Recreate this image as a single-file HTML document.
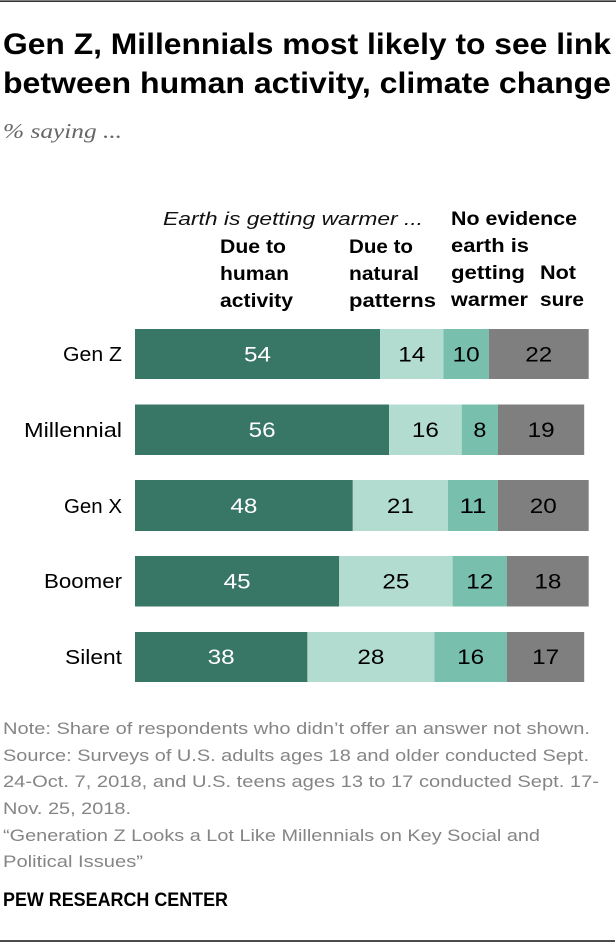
<!DOCTYPE html>
<html>
<head>
<meta charset="utf-8">
<style>
  html,body{margin:0;padding:0;background:#fff;}
  svg{display:block;}
  text{font-family:"Liberation Sans",sans-serif;}
</style>
</head>
<body>
<svg width="616" height="943" viewBox="0 0 616 943" xmlns="http://www.w3.org/2000/svg">
  <rect x="0" y="0" width="616" height="943" fill="#fff"/>
  <rect x="0" y="0.5" width="616" height="1.3" fill="#000"/>

  <!-- Title -->
  <text x="3" y="54" font-size="30" font-weight="bold" fill="#000" textLength="608" lengthAdjust="spacingAndGlyphs">Gen Z, Millennials most likely to see link</text>
  <text x="3" y="93" font-size="30" font-weight="bold" fill="#000" textLength="608" lengthAdjust="spacingAndGlyphs">between human activity, climate change</text>
  <text x="3" y="138" font-size="21" font-style="italic" fill="#666" style="font-family:'Liberation Serif',serif" textLength="119" lengthAdjust="spacingAndGlyphs">% saying ...</text>

  <!-- Column headers -->
  <text x="163" y="225" font-size="18" font-style="italic" fill="#111" textLength="260" lengthAdjust="spacingAndGlyphs">Earth is getting warmer ...</text>

  <g font-size="19" font-weight="bold" fill="#000">
    <text x="220" y="253" textLength="66" lengthAdjust="spacingAndGlyphs">Due to</text>
    <text x="220" y="280" textLength="69" lengthAdjust="spacingAndGlyphs">human</text>
    <text x="220" y="307" textLength="73" lengthAdjust="spacingAndGlyphs">activity</text>

    <text x="349" y="253" textLength="64" lengthAdjust="spacingAndGlyphs">Due to</text>
    <text x="349" y="280" textLength="70" lengthAdjust="spacingAndGlyphs">natural</text>
    <text x="349" y="307" textLength="87" lengthAdjust="spacingAndGlyphs">patterns</text>

    <text x="451" y="225" textLength="126" lengthAdjust="spacingAndGlyphs">No evidence</text>
    <text x="451" y="252" textLength="78" lengthAdjust="spacingAndGlyphs">earth is</text>
    <text x="451" y="279" textLength="74" lengthAdjust="spacingAndGlyphs">getting</text>
    <text x="451" y="306" textLength="77" lengthAdjust="spacingAndGlyphs">warmer</text>

    <text x="540" y="279" textLength="36" lengthAdjust="spacingAndGlyphs">Not</text>
    <text x="540" y="306" textLength="44" lengthAdjust="spacingAndGlyphs">sure</text>
  </g>

  <!-- Row labels -->
  <g font-size="20" fill="#000" text-anchor="end">
    <text x="122" y="361" textLength="59" lengthAdjust="spacingAndGlyphs">Gen Z</text>
    <text x="122" y="437" textLength="98" lengthAdjust="spacingAndGlyphs">Millennial</text>
    <text x="122" y="513" textLength="58" lengthAdjust="spacingAndGlyphs">Gen X</text>
    <text x="122" y="588" textLength="78" lengthAdjust="spacingAndGlyphs">Boomer</text>
    <text x="122" y="664" textLength="57" lengthAdjust="spacingAndGlyphs">Silent</text>
  </g>

  <!-- Bars -->
  <!-- Gen Z -->
  <rect x="135" y="329" width="245" height="50" fill="#387665"/>
  <rect x="380" y="329" width="63.5" height="50" fill="#b3dcd1"/>
  <rect x="443.5" y="329" width="45.4" height="50" fill="#78bfad"/>
  <rect x="488.9" y="329" width="99.8" height="50" fill="#7f7f7f"/>
  <!-- Millennial -->
  <rect x="135" y="404.5" width="254.1" height="50.5" fill="#387665"/>
  <rect x="389.1" y="404.5" width="72.6" height="50.5" fill="#b3dcd1"/>
  <rect x="461.7" y="404.5" width="36.3" height="50.5" fill="#78bfad"/>
  <rect x="498" y="404.5" width="86.2" height="50.5" fill="#7f7f7f"/>
  <!-- Gen X -->
  <rect x="135" y="480" width="217.8" height="51" fill="#387665"/>
  <rect x="352.8" y="480" width="95.2" height="51" fill="#b3dcd1"/>
  <rect x="448" y="480" width="49.9" height="51" fill="#78bfad"/>
  <rect x="497.9" y="480" width="90.8" height="51" fill="#7f7f7f"/>
  <!-- Boomer -->
  <rect x="135" y="556" width="204.2" height="50.5" fill="#387665"/>
  <rect x="339.2" y="556" width="113.4" height="50.5" fill="#b3dcd1"/>
  <rect x="452.6" y="556" width="54.4" height="50.5" fill="#78bfad"/>
  <rect x="507" y="556" width="81.7" height="50.5" fill="#7f7f7f"/>
  <!-- Silent -->
  <rect x="135" y="632" width="172.4" height="50" fill="#387665"/>
  <rect x="307.4" y="632" width="127" height="50" fill="#b3dcd1"/>
  <rect x="434.4" y="632" width="72.6" height="50" fill="#78bfad"/>
  <rect x="507" y="632" width="77.2" height="50" fill="#7f7f7f"/>

  <!-- Values -->
  <g font-size="21" text-anchor="middle">
    <text x="257.5" y="361.5" fill="#fff" textLength="27" lengthAdjust="spacingAndGlyphs">54</text>
    <text x="411.8" y="361.5" fill="#000" textLength="27" lengthAdjust="spacingAndGlyphs">14</text>
    <text x="466.2" y="361.5" fill="#000" textLength="27" lengthAdjust="spacingAndGlyphs">10</text>
    <text x="538.8" y="361.5" fill="#000" textLength="27" lengthAdjust="spacingAndGlyphs">22</text>

    <text x="262.1" y="437" fill="#fff" textLength="27" lengthAdjust="spacingAndGlyphs">56</text>
    <text x="425.4" y="437" fill="#000" textLength="27" lengthAdjust="spacingAndGlyphs">16</text>
    <text x="479.9" y="437" fill="#000" textLength="13" lengthAdjust="spacingAndGlyphs">8</text>
    <text x="541.1" y="437" fill="#000" textLength="27" lengthAdjust="spacingAndGlyphs">19</text>

    <text x="243.9" y="513" fill="#fff" textLength="27" lengthAdjust="spacingAndGlyphs">48</text>
    <text x="400.4" y="513" fill="#000" textLength="27" lengthAdjust="spacingAndGlyphs">21</text>
    <text x="473" y="513" fill="#000" textLength="27" lengthAdjust="spacingAndGlyphs">11</text>
    <text x="543.3" y="513" fill="#000" textLength="27" lengthAdjust="spacingAndGlyphs">20</text>

    <text x="237.1" y="588.5" fill="#fff" textLength="27" lengthAdjust="spacingAndGlyphs">45</text>
    <text x="395.9" y="588.5" fill="#000" textLength="27" lengthAdjust="spacingAndGlyphs">25</text>
    <text x="479.8" y="588.5" fill="#000" textLength="27" lengthAdjust="spacingAndGlyphs">12</text>
    <text x="547.9" y="588.5" fill="#000" textLength="27" lengthAdjust="spacingAndGlyphs">18</text>

    <text x="221.2" y="664" fill="#fff" textLength="27" lengthAdjust="spacingAndGlyphs">38</text>
    <text x="370.9" y="664" fill="#000" textLength="27" lengthAdjust="spacingAndGlyphs">28</text>
    <text x="470.7" y="664" fill="#000" textLength="27" lengthAdjust="spacingAndGlyphs">16</text>
    <text x="545.6" y="664" fill="#000" textLength="27" lengthAdjust="spacingAndGlyphs">17</text>
  </g>

  <!-- Footer -->
  <g font-size="17" fill="#858585">
    <text x="3" y="734" textLength="587" lengthAdjust="spacingAndGlyphs">Note: Share of respondents who didn’t offer an answer not shown.</text>
    <text x="3" y="761" textLength="586" lengthAdjust="spacingAndGlyphs">Source: Surveys of U.S. adults ages 18 and older conducted Sept.</text>
    <text x="3" y="787" textLength="596" lengthAdjust="spacingAndGlyphs">24-Oct. 7, 2018, and U.S. teens ages 13 to 17 conducted Sept. 17-</text>
    <text x="3" y="814" textLength="128" lengthAdjust="spacingAndGlyphs">Nov. 25, 2018.</text>
    <text x="3" y="841" textLength="537" lengthAdjust="spacingAndGlyphs">“Generation Z Looks a Lot Like Millennials on Key Social and</text>
    <text x="3" y="867" textLength="140" lengthAdjust="spacingAndGlyphs">Political Issues”</text>
  </g>
  <text x="3" y="906" font-size="19" font-weight="bold" fill="#000" textLength="225" lengthAdjust="spacingAndGlyphs">PEW RESEARCH CENTER</text>

  <rect x="0" y="940.3" width="615" height="1.4" fill="#000"/>
</svg>
</body>
</html>
